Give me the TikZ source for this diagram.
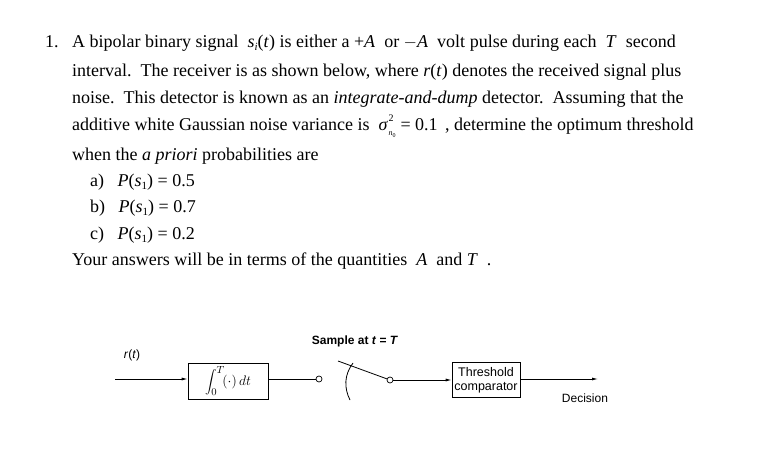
\documentclass[tikz,border=0pt]{standalone}
\usepackage{fontspec}
\setmainfont{Liberation Serif}
\newfontfamily\dsans{Liberation Sans}
\usetikzlibrary{arrows.meta}
\newcommand{\vi}[1]{\textit{#1}}
\newcommand{\sbs}[1]{\raisebox{-0.35ex}{\fontsize{11}{11}\selectfont #1}}
\begin{document}
\begin{tikzpicture}[x=1pt,y=-1pt,
  tl/.style={anchor=base west,inner sep=0pt,font=\fontsize{18}{20}\selectfont},
  blk/.style={draw,line width=0.8pt,minimum height=36pt,font=\dsans\fontsize{12.5}{14}\selectfont,align=center,inner sep=2pt},
  dl/.style={font=\dsans\fontsize{12}{13}\selectfont,inner sep=0pt},
  term/.style={circle,draw,line width=0.7pt,minimum size=6pt,inner sep=0pt},
  ar/.style={line width=0.8pt,-{Latex[length=6pt,width=3pt]}},
  ln/.style={line width=0.8pt}]
\useasboundingbox (0,0) rectangle (774,470);
\node[tl] (n1) at (45,48) {1.};
\node[tl] (l1) at (72,48) {A bipolar binary signal \ \vi{s}\sbs{\vi{i}}(\vi{t}) is either a +\vi{A} \ or $-$\vi{A} \ volt pulse during each \ \vi{T} \ second};
\node[tl] (l2) at (72,77) {interval.\ \ The receiver is as shown below, where \vi{r}(\vi{t}) denotes the received signal plus};
\node[tl] (l3) at (72,104) {noise.\ \ This detector is known as an \textit{integrate-and-dump} detector.\ \ Assuming that the};
\node[tl] (l4) at (72,131) {additive white Gaussian noise variance is \ \vi{σ}\hspace{0.5pt}\rlap{\raisebox{1.1ex}{\fontsize{10}{10}\selectfont 2}}\raisebox{-0.6ex}{\fontsize{8}{8}\selectfont\vi{n}\textsubscript{0}}\ = 0.1 \,, determine the optimum threshold};
\node[tl] (l5) at (72,161) {when the \textit{a priori} probabilities are};
\node[tl] (la) at (90,187) {a)\ \ \ \vi{P}(\vi{s}\sbs{1}) = 0.5};
\node[tl] (lb) at (90,213) {b)\ \ \ \vi{P}(\vi{s}\sbs{1}) = 0.7};
\node[tl] (lc) at (90,240) {c)\ \ \ \vi{P}(\vi{s}\sbs{1}) = 0.2};
\node[tl] (ly) at (72,266) {Your answers will be in terms of the quantities \ \vi{A} \ and \vi{T} \ .};
% diagram
\coordinate (in) at (115,379);
\node[dl] (rt) at (132,355) {\textit{r}(\textit{t})};
\node[blk,minimum width=80pt] (int) at (228,381) {\scalebox{1.15}{$\displaystyle\int_0^T\!(\cdot)\,dt$}};
\node[term] (t1) at (319,379) {};
\node[term] (t2) at (390,380) {};
\node[dl,font=\dsans\bfseries\fontsize{12}{13}\selectfont] (samp) at (355,341) {Sample at \textit{t} = \textit{T}};
\node[blk,minimum width=68pt,minimum height=35pt] (thr) at (486,380) {Threshold\\comparator};
\coordinate (out) at (598,379);
\node[dl] (dec) at (585,398) {Decision};
\coordinate (sw) at (338,361);
\draw[ar] (in) -- (int.west |- in);
\draw[ln] (int.east |- t1) -- (t1);
\draw[ln] (sw) -- (t2);
\draw[ln] (353,363) .. controls (344,375) and (344,388) .. (350,400);
\draw[ar] (t2) -- (thr.west |- t2);
\draw[ar] (thr.east |- out) -- (out);
\end{tikzpicture}
\end{document}
